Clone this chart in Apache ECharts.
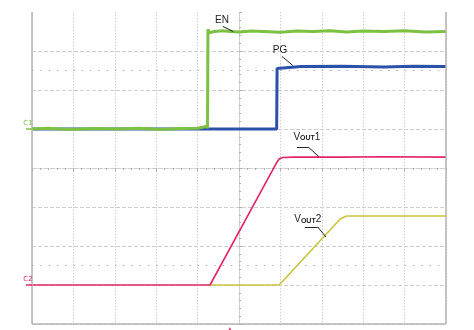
<!DOCTYPE html>
<html>
<head>
<meta charset="utf-8">
<script src="https://cdn.jsdelivr.net/npm/echarts@6/dist/echarts.min.js"></script>
<style>html,body{margin:0;padding:0;background:#fff;}#c{width:474px;height:330px;}</style>
</head>
<body>
<div id="c"></div>
<script>
// Coordinates in scope divisions: x -5..5 (10 div), y -4..4 (8 div)
var xTicks = [-5,-4,-3,-2,-1,0,1,2,3,4,5];
var yTicks = [-4,-3,-2,-1,0,1,2,3,4];

var enData = [[-5,1.0],[-4.6,1.02],[-4.1,0.99],[-3.5,1.01],[-3.0,1.0],[-2.4,1.02],[-1.9,0.99],[-1.4,1.01],[-1.0,1.02],[-0.85,1.05],[-0.78,1.08],[-0.76,1.02],
  [-0.75,3.56],[-0.72,3.47],[-0.6,3.5],[-0.4,3.52],[-0.2,3.5],[0,3.49],[0.3,3.51],[0.6,3.5],[1.0,3.48],[1.4,3.51],[1.8,3.5],[2.2,3.52],[2.6,3.49],[3.0,3.51],[3.5,3.5],[4.0,3.52],[4.5,3.49],[5,3.5]];
var pgData = [[-5,1.0],[-2,1.0],[-0.8,1.0],[0.0,1.0],[0.91,1.0],[0.92,2.55],[0.96,2.6],[1.5,2.6],[2.5,2.61],[3.5,2.59],[4.2,2.61],[5,2.6]];
var vout1Data = [[-5,-3.0],[-2,-3.0],[-0.7,-3.0],[0.9,0.12],[0.97,0.23],[1.05,0.27],[1.3,0.28],[2.5,0.28],[3.5,0.29],[5,0.28]];
var vout2Data = [[-0.7,-3.0],[0.97,-3.0],[2.45,-1.3],[2.6,-1.23],[3.5,-1.23],[5,-1.23]];

var cGreen = '#7dc143', cBlue = '#2b52a8', cPink = '#e3246b', cYellow = '#c9c43e';
var gridColor = '#cfcfcf', borderColor = '#b4b4b4', leader = '#222';

var chart = echarts.init(document.getElementById('c'));
var labelFont = {fontFamily: 'Liberation Sans, Arial, sans-serif', fontSize: 10, color: '#222'};
function voutLabel(n){
  return {
    formatter: '{a|V}{b|OUT}{a|' + n + '}',
    rich: {
      a: {fontFamily: 'Liberation Sans, Arial, sans-serif', fontSize: 10, color: '#222', verticalAlign: 'bottom', lineHeight: 12},
      b: {fontFamily: 'Liberation Sans, Arial, sans-serif', fontSize: 7, fontWeight: 'bold', color: '#222', verticalAlign: 'bottom', lineHeight: 8}
    }
  };
}
function leaderLines(segs){
  return segs.map(function(s){ return [{coord: s[0]}, {coord: s[1]}]; });
}

chart.setOption({
  animation: false,
  backgroundColor: '#fff',
  grid: {left: 32, right: 28, top: 12, bottom: 6},
  xAxis: {
    type: 'value', min: -5, max: 5, interval: 1, position: 'top',
    axisLine: {onZero: true, lineStyle: {color: gridColor, type: [1.5, 1.5]}},
    axisTick: {show: true, length: 3, inside: true, lineStyle: {color: '#b0b0b0'}},
    minorTick: {show: true, splitNumber: 5, length: 2, lineStyle: {color: '#b0b0b0'}},
    axisLabel: {show: false},
    splitLine: {show: true, lineStyle: {color: gridColor, type: [1.5, 1.5]}}
  },
  yAxis: {
    type: 'value', min: -4, max: 4, interval: 1, position: 'left',
    axisLine: {onZero: true, lineStyle: {color: gridColor, type: [1.5, 1.5]}},
    axisTick: {show: true, length: 3, inside: true, lineStyle: {color: '#b0b0b0'}},
    minorTick: {show: true, splitNumber: 5, length: 2, lineStyle: {color: '#b0b0b0'}},
    axisLabel: {show: false},
    splitLine: {show: true, showMaxLine: false, lineStyle: {color: gridColor, type: [4, 2]}}
  },
  series: [
    {
      type: 'line', data: [], silent: true,
      markLine: {
        symbol: 'none', silent: true, animation: false, label: {show: false},
        data: [
          {xAxis: -5, lineStyle: {color: borderColor, width: 1.5, type: 'solid'}},
          {xAxis: 5, lineStyle: {color: borderColor, width: 1.5, type: 'solid'}},
          {yAxis: -4, lineStyle: {color: borderColor, width: 1.5, type: 'solid'}},
          {yAxis: 2.5, lineStyle: {color: '#b0b0b0', width: 1, type: [1.5, 6.78]}},
          {yAxis: -2.5, lineStyle: {color: '#b0b0b0', width: 1, type: [1.5, 6.78]}}
        ]
      }
    },
    {
      name: 'PG', type: 'line', data: pgData, showSymbol: false, symbol: 'none', z: 3,
      lineStyle: {color: cBlue, width: 3}, clip: false,
      markPoint: {
        symbol: 'circle', symbolSize: 0, silent: true,
        data: [{coord: [0.99, 3.03], label: Object.assign({show: true, position: 'inside', formatter: 'PG'}, labelFont)}]
      },
      markLine: {
        symbol: 'none', silent: true, label: {show: false}, lineStyle: {color: leader, width: 1, type: 'solid'},
        data: leaderLines([[[1.04, 2.86], [1.30, 2.63]]])
      }
    },
    {
      name: 'EN', type: 'line', data: enData, showSymbol: false, symbol: 'none', z: 4,
      lineStyle: {color: cGreen, width: 3}, clip: false,
      markPoint: {
        symbol: 'circle', symbolSize: 0, silent: true,
        data: [
          {coord: [-0.41, 3.79], label: Object.assign({show: true, position: 'inside', formatter: 'EN'}, labelFont)},
          {coord: [-5, 1.0], symbol: 'rect', symbolSize: [6, 1.5], symbolOffset: [-3, 0], itemStyle: {color: cGreen},
           label: {show: true, position: 'top', distance: 2, offset: [-1, 0], formatter: 'C1', fontSize: 7, color: cGreen, fontFamily: 'DejaVu Sans'}}
        ]
      },
      markLine: {
        symbol: 'none', silent: true, label: {show: false}, lineStyle: {color: leader, width: 1, type: 'solid'},
        data: leaderLines([[[-0.39, 3.63], [-0.14, 3.50]]])
      }
    },
    {
      name: 'VOUT2', type: 'line', data: vout2Data, showSymbol: false, symbol: 'none', z: 3,
      lineStyle: {color: cYellow, width: 1.6}, clip: false,
      markPoint: {
        symbol: 'circle', symbolSize: 0, silent: true,
        data: [{coord: [1.66, -1.3], label: Object.assign({show: true, position: 'inside'}, voutLabel(2))}]
      },
      markLine: {
        symbol: 'none', silent: true, label: {show: false}, lineStyle: {color: leader, width: 1, type: 'solid'},
        data: leaderLines([[[1.59, -1.51], [1.90, -1.51]], [[1.90, -1.51], [2.10, -1.77]]])
      }
    },
    {
      name: 'VOUT1', type: 'line', data: vout1Data, showSymbol: false, symbol: 'none', z: 4,
      lineStyle: {color: cPink, width: 1.6}, clip: false,
      markPoint: {
        symbol: 'circle', symbolSize: 0, silent: true,
        data: [
          {coord: [1.64, 0.82], label: Object.assign({show: true, position: 'inside'}, voutLabel(1))},
          {coord: [-5, -3.0], symbol: 'rect', symbolSize: [6, 1.5], symbolOffset: [-3, 0], itemStyle: {color: cPink},
           label: {show: true, position: 'top', distance: 2, offset: [-1, 0], formatter: 'C2', fontSize: 7, color: cPink, fontFamily: 'DejaVu Sans'}},
          {coord: [-0.22, -4], symbol: 'arrow', symbolSize: [5, 8], symbolOffset: [0, 3], itemStyle: {color: cPink}}
        ]
      },
      markLine: {
        symbol: 'none', silent: true, label: {show: false}, lineStyle: {color: leader, width: 1, type: 'solid'},
        data: leaderLines([[[1.40, 0.54], [1.67, 0.54]], [[1.67, 0.54], [1.93, 0.29]]])
      }
    }
  ]
});
</script>
</body>
</html>
